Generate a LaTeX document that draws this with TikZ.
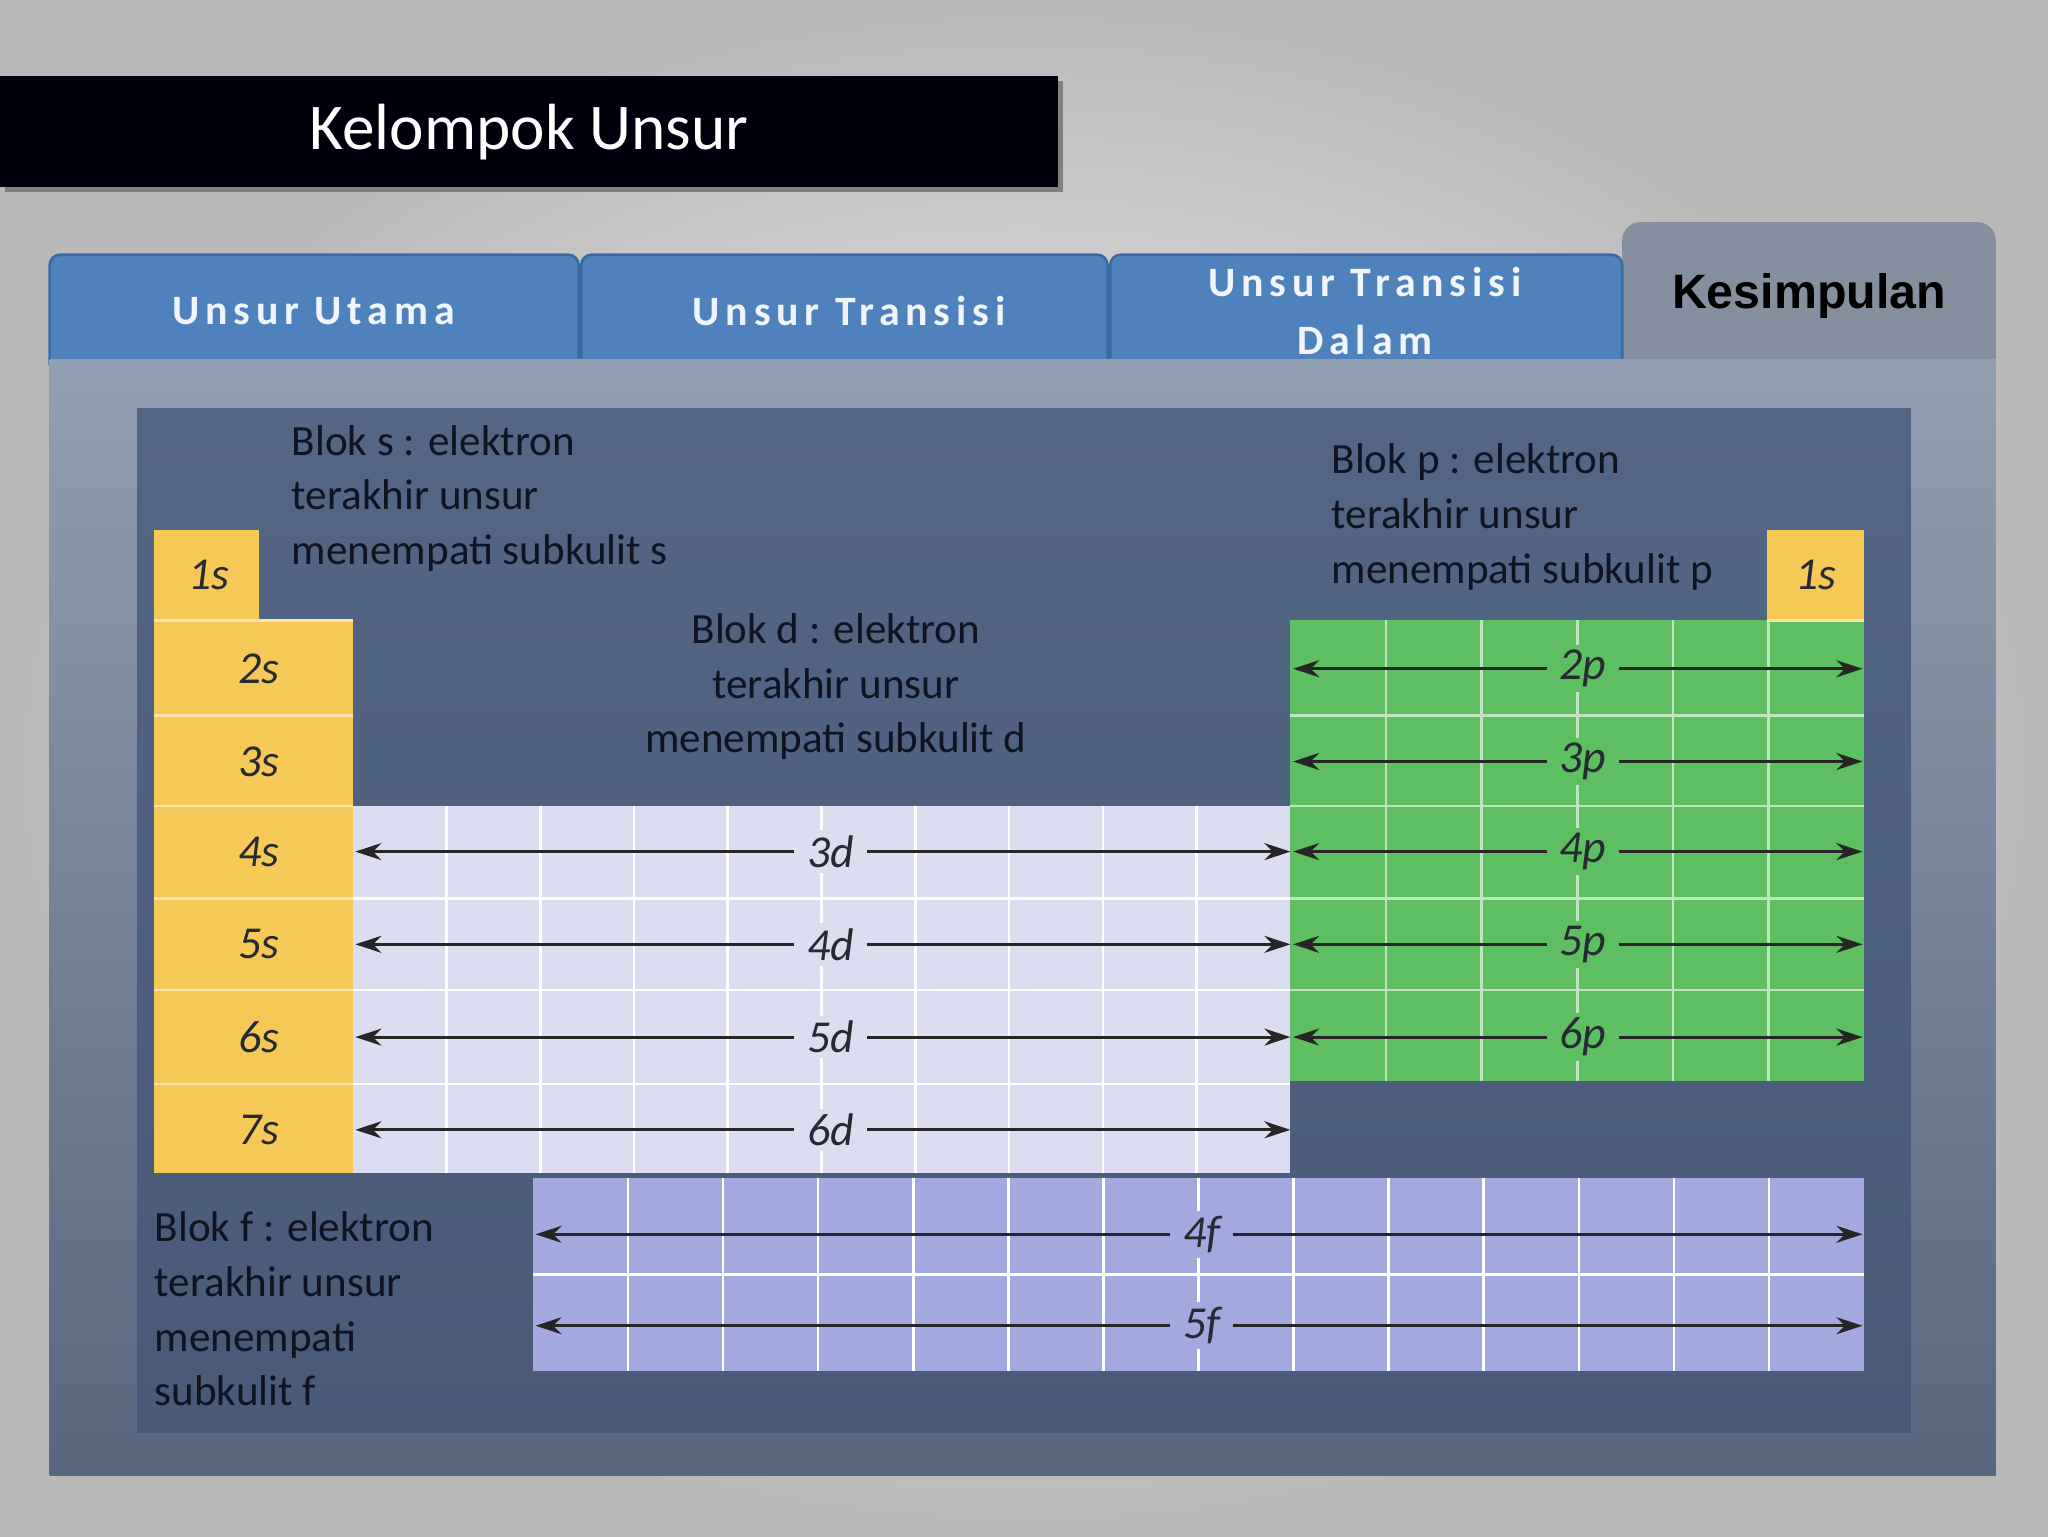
\documentclass[tikz,border=0pt]{standalone}
\usepackage{fontspec}
\setmainfont{Carlito}
\newfontfamily\arialf{Liberation Sans}
\usetikzlibrary{arrows.meta}
\definecolor{tabblue}{HTML}{4F81BD}
\definecolor{tabedge}{HTML}{3A6AA0}
\definecolor{sy}{HTML}{F6C957}
\definecolor{dl}{HTML}{DCDDF1}
\definecolor{pg}{HTML}{5DBE62}
\definecolor{fb}{HTML}{A3A8DE}
\definecolor{txt}{HTML}{0E1420}
\definecolor{pt}{HTML}{929EB1}
\definecolor{pb}{HTML}{58677E}
\definecolor{it}{HTML}{536684}
\definecolor{ib}{HTML}{485A76}
\definecolor{kt}{HTML}{858FA0}
\tikzset{
 x=1pt,y=-1pt,
 tab/.style={draw=tabedge,line width=2pt,fill=tabblue,rounded corners=8pt},
 tabtxt/.style={text=white!92!tabblue,font=\fontsize{32}{36}\selectfont\addfontfeatures{LetterSpace=14}\bfseries,align=center},
 cell/.style={text=txt!80!gray,font=\fontsize{35}{36}\selectfont\itshape,inner sep=4pt},
 lbl/.style={text=txt,font=\fontsize{33}{42}\selectfont,align=left,anchor=north west},
 arr/.style={{Stealth[length=20pt,width=13pt]}-{Stealth[length=20pt,width=13pt]},line width=2.2pt,black!85},
 grid/.style={white,line width=2pt}
}
\begin{document}
\begin{tikzpicture}
\useasboundingbox (0,0) rectangle (1568,1176);
\shade[inner color=gray!8,outer color=gray!55] (0,0) rectangle (1568,1176);
% title
\fill[black!50] (4,62) rectangle (814,147);
\node[fill=black!95!blue,minimum width=810pt,minimum height=85pt,anchor=north west,inner sep=0] (title) at (0,58) {};
\node[text=white,font=\fontsize{50}{54}\selectfont] at (405,101) {Kelompok Unsur};
% tabs
\fill[kt,rounded corners=14pt] (1242,170) rectangle (1528,300);
\node[font=\arialf\bfseries\fontsize{37}{40}\selectfont,text=black] (k) at (1385,227) {Kesimpulan};
\draw[tab] (38,280) -- (38,195) -- (443,195) -- (443,280);
\draw[tab] (445,280) -- (445,195) -- (848,195) -- (848,280);
\draw[tab] (850,280) -- (850,195) -- (1242,195) -- (1242,280);
\node[tabtxt] (t1) at (240,238) {Unsur Utama};
\node[tabtxt] (t2) at (650,238) {Unsur Transisi};
\node[tabtxt,font=\fontsize{32}{44}\selectfont\addfontfeatures{LetterSpace=14}\bfseries] (t3) at (1045,238) {Unsur Transisi\\Dalam};
% panel
\shade[top color=pt,bottom color=pb] (38,275) rectangle (1528,1130);
\shade[top color=it,bottom color=ib] (105,313) rectangle (1463,1097);
% s block
\fill[sy] (118,406) rectangle (198,475);
\fill[sy] (118,475) rectangle (270,898);
\fill[sy] (1353,406) rectangle (1427,475);
% d block
\fill[dl] (270,617) rectangle (988,898);
\foreach \i in {1,...,9} \draw[grid] ({270+71.8*\i},617) -- ({270+71.8*\i},898);
\foreach \y in {688,758,830} \draw[grid] (270,\y) -- (988,\y);
% p block
\fill[pg] (988,475) rectangle (1427,828);
\foreach \i in {1,...,5} \draw[grid,white!60!pg] ({988+73.2*\i},475) -- ({988+73.2*\i},828);
\foreach \y in {548,617,688,758} \draw[grid,white!60!pg] (988,\y) -- (1427,\y);
% f block
\fill[fb] (408,902) rectangle (1427,1050);
\foreach \i in {1,...,13} \draw[grid] ({408+72.8*\i},902) -- ({408+72.8*\i},1050);
\draw[grid] (408,976) -- (1427,976);
% s lines
\foreach \y in {475,548,617,688,758,830} \draw[white!50!sy,line width=2pt] (118,\y) -- (270,\y);
\draw[white!50!sy,line width=2pt] (1353,475) -- (1427,475);
% s labels
\node[cell] (s1) at (160,440) {1s};
\node[cell] (s1b) at (1390,440) {1s};
\foreach \n/\y in {2/512,3/583,4/652,5/723,6/794,7/865} \node[cell] (s\n) at (198,\y) {\n s};
% d rows
\foreach \n/\y in {3/652,4/723,5/794,6/865}{
 \coordinate (dl\n) at (272,\y); \coordinate (dr\n) at (988,\y);
 \draw[arr] (dl\n) -- (dr\n);
 \node[cell,fill=dl,inner xsep=10pt] (d\n) at (636,\y) {\n d};
}
% p rows
\foreach \n/\y in {2/512,3/583,4/652,5/723,6/794}{
 \coordinate (pl\n) at (990,\y); \coordinate (pr\n) at (1426,\y);
 \draw[arr] (pl\n) -- (pr\n);
 \node[cell,fill=pg,inner xsep=10pt] (p\n) at (1212,\y) {\n p};
}
% f rows
\foreach \n/\y in {4/945,5/1015}{
 \coordinate (fl\n) at (410,\y); \coordinate (fr\n) at (1426,\y);
 \draw[arr] (fl\n) -- (fr\n);
 \node[cell,fill=fb,inner xsep=10pt] (f\n) at (920,\y) {\n f};
}
% text labels
\node[lbl] (ls) at (220,322) {Blok s : elektron\\terakhir unsur\\menempati subkulit s};
\node[lbl] (lp) at (1016,336) {Blok p : elektron\\terakhir unsur\\menempati subkulit p};
\node[lbl,align=center,anchor=north] (ld) at (640,466) {Blok d : elektron\\terakhir unsur\\menempati subkulit d};
\node[lbl] (lf) at (115,924) {Blok f : elektron\\terakhir unsur\\menempati\\subkulit f};
\end{tikzpicture}
\end{document}
